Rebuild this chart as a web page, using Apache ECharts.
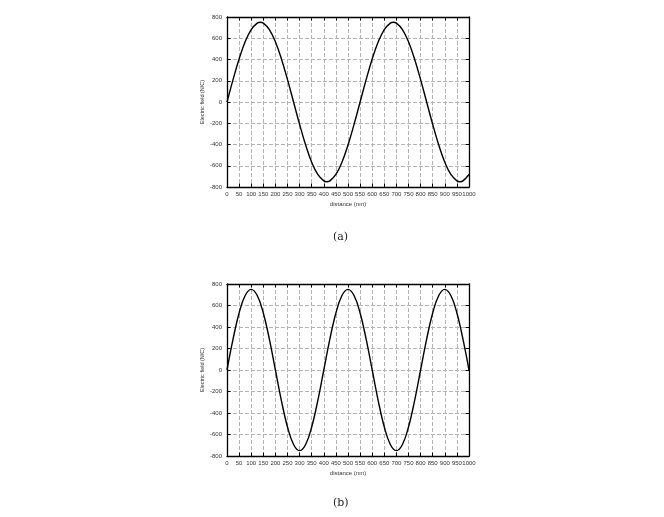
<!DOCTYPE html>
<html><head><meta charset="utf-8">
<script src="https://cdn.jsdelivr.net/npm/echarts@6/dist/echarts.min.js"></script>
<style>html,body{margin:0;padding:0;background:#fff}#c{width:664px;height:517px}</style>
</head><body><div id="c"></div>
<script>
// Panel (a)
const distA = [0,25,50,75,100,125,137.5,150,175,200,225,250,275,300,325,350,375,400,412.5,425,450,475,500,525,550,575,600,625,650,675,687.5,700,725,750,775,800,825,850,875,900,925,950,962.5,975,1000];
const fieldA = [0,211,405,567,682,742,750,742,682,567,405,211,0,-211,-405,-567,-682,-742,-750,-742,-682,-567,-405,-211,0,211,405,567,682,742,750,742,682,567,405,211,0,-211,-405,-567,-682,-742,-750,-742,-682];
// Panel (b)
const distB = [0,25,50,75,100,125,150,175,200,225,250,275,300,325,350,375,400,425,450,475,500,525,550,575,600,625,650,675,700,725,750,775,800,825,850,875,900,925,950,975,1000];
const fieldB = [0,287,530,693,750,693,530,287,0,-287,-530,-693,-750,-693,-530,-287,0,287,530,693,750,693,530,287,0,-287,-530,-693,-750,-693,-530,-287,0,287,530,693,750,693,530,287,0];
const captions = ['(a)','(b)'];
const xName = 'distance (nm)';
const yName = 'Electric field (N/C)';

const chart = echarts.init(document.getElementById('c'), null, {renderer:'canvas'});
const font = 'Liberation Sans, Arial, sans-serif';
const grids = [
  {left:227, top:17, width:242, height:170},
  {left:227, top:284, width:242, height:172}
];
const line = {onZero:false, show:true, lineStyle:{color:'#000', width:1.3}};
const tick = {show:true, inside:true, length:3.5, lineStyle:{color:'#000', width:1}};
const split = {show:true, lineStyle:{color:'#b4b4b4', type:[4,2], width:1}};
const xAxes = [], yAxes = [];
grids.forEach((g,i)=>{
  xAxes.push({type:'value', gridIndex:i, min:0, max:1000, interval:50, position:'bottom',
    name:xName, nameLocation:'middle', nameGap:14, nameTextStyle:{fontSize:6, color:'#333', fontFamily:font},
    axisLine:line, axisTick:tick,
    axisLabel:{fontSize:6, color:'#333', fontFamily:font, margin:4, formatter:v=>String(v)},
    splitLine:split});
  xAxes.push({type:'value', gridIndex:i, min:0, max:1000, interval:50, position:'top',
    axisLine:line, axisTick:tick, axisLabel:{show:false}, splitLine:{show:false}});
  yAxes.push({type:'value', gridIndex:i, min:-800, max:800, interval:200, position:'left',
    name:yName, nameLocation:'middle', nameGap:22, nameRotate:90, nameTextStyle:{fontSize:5.5, color:'#333', fontFamily:font},
    axisLine:line, axisTick:tick,
    axisLabel:{fontSize:6, color:'#333', fontFamily:font, margin:5},
    splitLine:split});
  yAxes.push({type:'value', gridIndex:i, min:-800, max:800, interval:200, position:'right',
    axisLine:line, axisTick:tick, axisLabel:{show:false}, splitLine:{show:false}});
});
const mk = (xs, ys) => xs.map((x,k)=>[x, ys[k]]);
chart.setOption({
  animation:false,
  backgroundColor:'#fff',
  title:[
    {text:captions[0], left:328, top:227, textStyle:{fontFamily:'DejaVu Serif, Liberation Serif, serif', fontSize:11, fontWeight:'normal', color:'#222'}},
    {text:captions[1], left:328, top:493, textStyle:{fontFamily:'DejaVu Serif, Liberation Serif, serif', fontSize:11, fontWeight:'normal', color:'#222'}}
  ],
  grid:grids,
  xAxis:xAxes,
  yAxis:yAxes,
  series:[
    {type:'line', xAxisIndex:0, yAxisIndex:0, data:mk(distA, fieldA), smooth:0.4, showSymbol:false, lineStyle:{color:'#000', width:1.4}},
    {type:'line', xAxisIndex:2, yAxisIndex:2, data:mk(distB, fieldB), smooth:0.4, showSymbol:false, lineStyle:{color:'#000', width:1.4}}
  ]
});
</script></body></html>
